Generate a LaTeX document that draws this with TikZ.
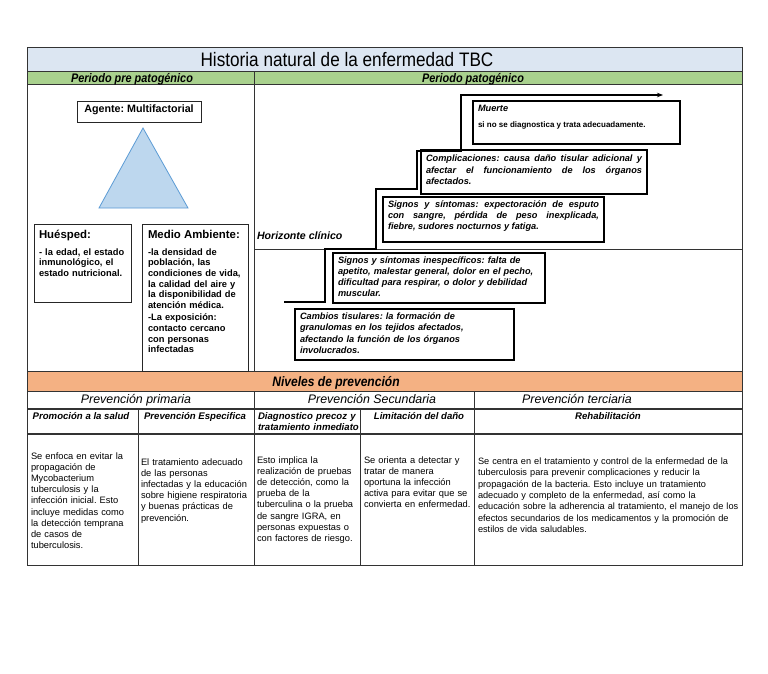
\documentclass[tikz,border=0pt]{standalone}
\usepackage{fontspec}
\setmainfont{Liberation Sans}
\newfontfamily\narrowfont[FakeStretch=0.88]{Liberation Sans}
\usetikzlibrary{arrows.meta}
\definecolor{titlefill}{HTML}{DCE6F2}
\definecolor{greenfill}{HTML}{A9D18E}
\definecolor{orangefill}{HTML}{F4B183}
\definecolor{trifill}{HTML}{BDD7EE}
\definecolor{tristroke}{HTML}{5B9BD5}
\definecolor{gridcol}{HTML}{333333}
\definecolor{boxgray}{HTML}{262626}
\frenchspacing
\begin{document}
\begin{tikzpicture}[x=1pt,y=-1pt,
  every node/.style={inner sep=0pt, outer sep=0pt},
  grid/.style={draw=gridcol, line width=0.9pt},
  thickgrid/.style={draw=gridcol, line width=1.3pt},
  rbox/.style={draw=black, line width=1.1pt, anchor=north west},
  lbox/.style={draw=boxgray, line width=1pt, anchor=north west},
  tb/.style={anchor=base west, align=left},
  tj/.style={anchor=base west, align=justify},
  rtxt/.style={font=\bfseries\itshape\fontsize{9.2}{11.3}\selectfont},
  btxt/.style={font=\fontsize{9.3}{11.1}\selectfont},
  ltitle/.style={font=\bfseries\fontsize{11.4}{12}\selectfont},
  lbody/.style={font=\bfseries\fontsize{9.3}{10.7}\selectfont},
  subhd/.style={font=\bfseries\itshape\fontsize{9.6}{11}\selectfont},
  prevhd/.style={font=\itshape\fontsize{12.4}{14}\selectfont, anchor=base},
  stepline/.style={draw=black, line width=1.3pt}
]
\useasboundingbox (0,0) rectangle (768,673);
\fill[white] (0,0) rectangle (768,673);

% fills
\fill[titlefill] (27,47) rectangle (742,71);
\fill[greenfill] (27,71) rectangle (742,84);
\fill[orangefill] (27,371) rectangle (742,391);

% grid
\draw[grid] (27,47) rectangle (742,565);
\draw[grid] (27,71) -- (742,71);
\draw[grid] (27,84) -- (742,84);
\draw[grid] (27,371) -- (742,371);
\draw[grid] (27,391) -- (742,391);
\draw[thickgrid] (27,409) -- (742,409);
\draw[thickgrid] (27,434) -- (742,434);
\draw[grid] (254,71) -- (254,371);
\draw[grid] (254,391) -- (254,565);
\draw[grid] (474,391) -- (474,565);
\draw[grid] (138,409) -- (138,565);
\draw[grid] (360,409) -- (360,565);
\draw[grid] (254,249) -- (742,249);

% header texts
\node[anchor=base, font=\narrowfont\fontsize{19.5}{22}\selectfont] (title) at (347,66) {Historia natural de la enfermedad TBC};
\node[anchor=base, font=\narrowfont\bfseries\itshape\fontsize{12.4}{13}\selectfont] (prepat) at (132,82) {Periodo pre patogénico};
\node[anchor=base, font=\narrowfont\bfseries\itshape\fontsize{12.4}{13}\selectfont] (pat) at (473,82) {Periodo patogénico};

% left panel
\node[lbox, minimum width=124pt, minimum height=21pt] (agentebox) at (77,101) {};
\node[font=\bfseries\fontsize{10.7}{12}\selectfont] (agente) at (139,110) {Agente: Multifactorial};
\coordinate (ta) at (143,128);
\coordinate (tl) at (99,208);
\coordinate (tr) at (188,208);
\draw[fill=trifill, draw=tristroke, line width=0.8pt] (ta) -- (tl) -- (tr) -- cycle;

\node[lbox, minimum width=97pt, minimum height=78pt] (huespedbox) at (34,224) {};
\node[tb, ltitle] (huespedt) at (39,238) {Huésped:};
\node[tb, lbody, text width=92pt] (huespedb) at (39,255) {- la edad, el estado\\inmunológico, el\\estado nutricional.};

\node[lbox, minimum width=106pt, minimum height=147pt] (mediobox) at (142,224) {};
\node[tb, ltitle] (mediot) at (148,238) {Medio Ambiente:};
\node[tb, lbody, text width=100pt] (mediob) at (148,255) {-la densidad de\\población, las\\condiciones de vida,\\la calidad del aire y\\la disponibilidad de\\atención médica.\\[1.6pt]-La exposición:\\contacto cercano\\con personas\\infectadas};

% right panel: step line
\coordinate (s0) at (284,302);
\coordinate (s1) at (325,249);
\coordinate (s2) at (376,189);
\coordinate (s3) at (417,151);
\coordinate (s4) at (461,95);
\coordinate (s5) at (663,95);
\draw[stepline, -{Stealth[length=6pt,width=4.5pt]}] (s0) -| (s1) -| (s2) -| (s3) -| (s4) -- (s5);

\node[rbox, minimum width=207pt, minimum height=43pt] (muertebox) at (473,101) {};
\node[tb, font=\bfseries\itshape\fontsize{9.2}{11}\selectfont] (muertet) at (478,111) {Muerte};
\node[tb, font=\bfseries\fontsize{8}{10}\selectfont] (muerteb) at (478,127.5) {si no se diagnostica y trata adecuadamente.};

\node[rbox, minimum width=226pt, minimum height=44pt] (compbox) at (421,150) {};
\node[tj, rtxt, text width=216pt, font=\bfseries\itshape\fontsize{9.2}{11.6}\selectfont] (compt) at (426,161.5) {Complicaciones: causa daño tisular adicional y\linebreak afectar el funcionamiento de los órganos\linebreak afectados.};

\node[rbox, minimum width=221pt, minimum height=45pt] (signbox) at (383,197) {};
\node[tj, rtxt, text width=211pt] (signt) at (388,207) {Signos y síntomas: expectoración de esputo\linebreak con sangre, pérdida de peso inexplicada,\linebreak fiebre, sudores nocturnos y fatiga.};

\node[anchor=base west, font=\bfseries\itshape\fontsize{10.6}{12}\selectfont] (horiz) at (257,239) {Horizonte clínico};

\node[rbox, minimum width=212pt, minimum height=50pt] (inespbox) at (333,253) {};
\node[tb, rtxt, text width=205pt, font=\bfseries\itshape\fontsize{9.2}{11}\selectfont] (inespt) at (338,263) {Signos y síntomas inespecíficos: falta de\\apetito, malestar general, dolor en el pecho,\\dificultad para respirar, o dolor y debilidad\\muscular.};

\node[rbox, minimum width=219pt, minimum height=51pt] (cambbox) at (295,309) {};
\node[tb, rtxt, text width=210pt] (cambt) at (300,319.5) {Cambios tisulares: la formación de\\granulomas en los tejidos afectados,\\afectando la función de los órganos\\involucrados.};

% bottom headers
\node[anchor=base, font=\narrowfont\bfseries\itshape\fontsize{13.7}{15}\selectfont] (niveles) at (336,386) {Niveles de prevención};
\node[prevhd] (pprim) at (136,403) {Prevención primaria};
\node[prevhd] (psec) at (372,403) {Prevención Secundaria};
\node[prevhd] (pter) at (577,403) {Prevención terciaria};

\node[anchor=base, subhd] (sh1) at (81,419) {Promoción a la salud};
\node[anchor=base, subhd] (sh2) at (195,419) {Prevención Especifica};
\node[tb, subhd, text width=110pt] (sh3) at (258,419) {Diagnostico precoz y\\tratamiento inmediato};
\node[anchor=base, subhd] (sh4) at (419,419) {Limitación del daño};
\node[anchor=base, subhd] (sh5) at (608,419) {Rehabilitación};

% bottom content
\node[tb, btxt, text width=105pt] (c1) at (31,459.5) {Se enfoca en evitar la\\propagación de\\Mycobacterium\\tuberculosis y la\\infección inicial. Esto\\incluye medidas como\\la detección temprana\\de casos de\\tuberculosis.};
\node[tb, btxt, text width=110pt] (c2) at (141,465.5) {El tratamiento adecuado\\de las personas\\infectadas y la educación\\sobre higiene respiratoria\\y buenas prácticas de\\prevención.};
\node[tb, btxt, text width=102pt] (c3) at (257,463.5) {Esto implica la\\realización de pruebas\\de detección, como la\\prueba de la\\tuberculina o la prueba\\de sangre IGRA, en\\personas expuestas o\\con factores de riesgo.};
\node[tb, btxt, text width=108pt] (c4) at (364,463.5) {Se orienta a detectar y\\tratar de manera\\oportuna la infección\\activa para evitar que se\\convierta en enfermedad.};
\node[tb, btxt, text width=290pt, font=\fontsize{9.2}{11.3}\selectfont] (c5) at (478,464.5) {Se centra en el tratamiento y control de la enfermedad de la\\tuberculosis para prevenir complicaciones y reducir la\\propagación de la bacteria. Esto incluye un tratamiento\\adecuado y completo de la enfermedad, así como la\\educación sobre la adherencia al tratamiento, el manejo de los\\efectos secundarios de los medicamentos y la promoción de\\estilos de vida saludables.};
\end{tikzpicture}
\end{document}
